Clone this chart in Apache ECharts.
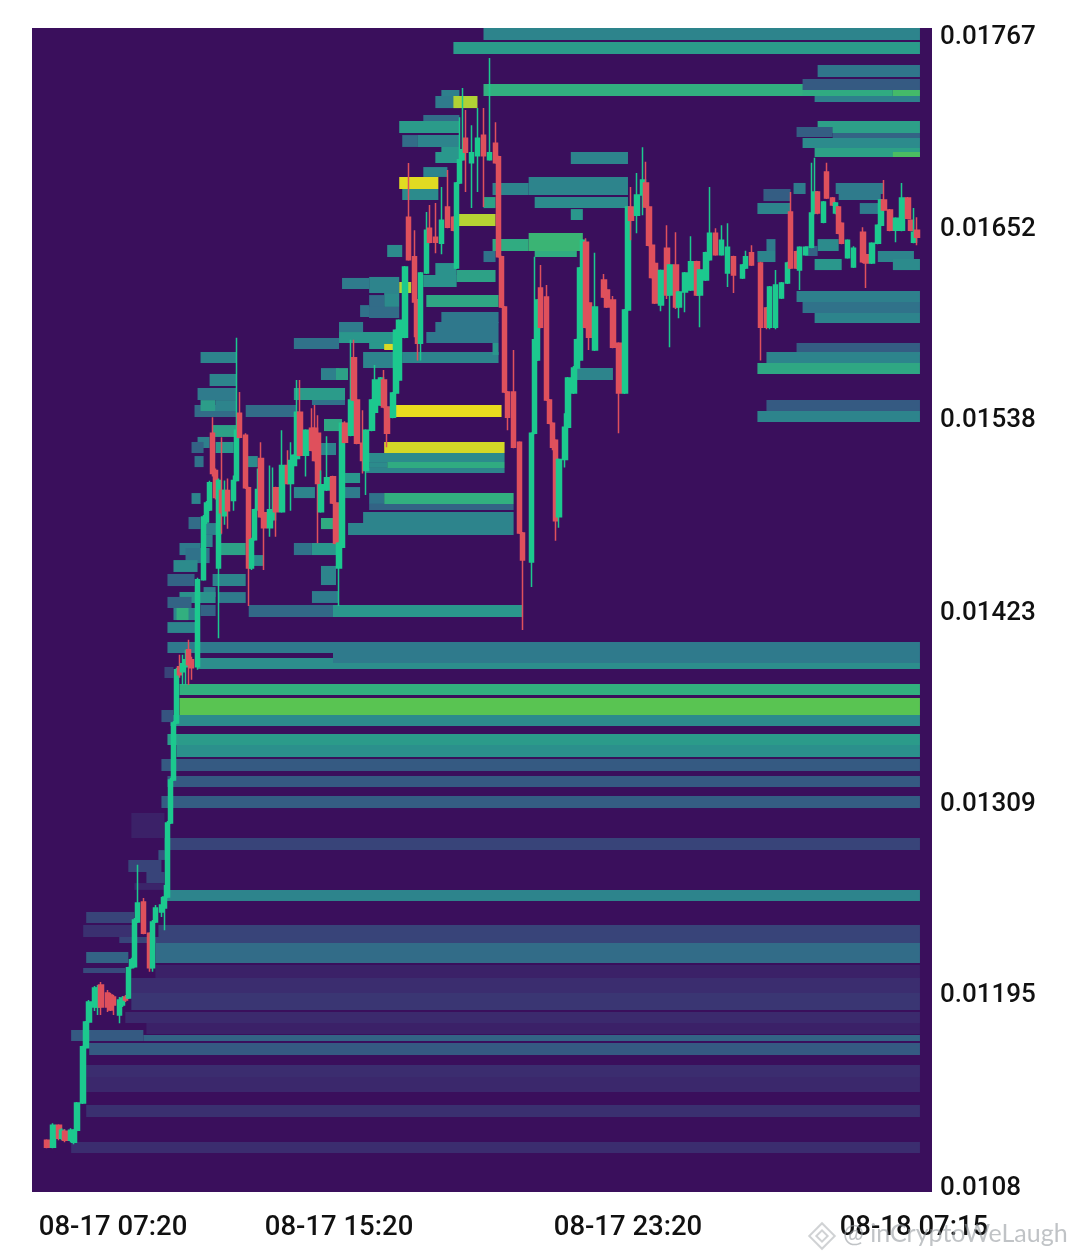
<!DOCTYPE html>
<html><head><meta charset="utf-8">
<script src="https://cdn.jsdelivr.net/npm/echarts@6/dist/echarts.min.js"></script>
<style>html,body{margin:0;padding:0;background:#fff}#c{width:1079px;height:1259px}</style>
</head><body><div id="c"></div>
<script>
// Prices are in millionths (14230 = 0.01423). x positions are 5-minute slots counted from 08-17 07:20.
const yTickLabels=['0.0108','0.01195','0.01309','0.01423','0.01538','0.01652','0.01767'];
const xTickSlots=[0,96,192,287];
const xTickLabels=['08-17 07:20','08-17 15:20','08-17 23:20','08-18 07:15'];

// candle rows: [slot, open, close, low, high]
const candlesRise=[[-1,11109,11067,11061,11115],[1,11067,11199,11061,11211],[3,11199,11121,11109,11205],[4,11121,11169,11109,11181],[5,11163,11109,11097,11175],[7,11109,11169,11097,11181],[8,11097,11169,11085,11175],[9,11169,11331,11163,11337],[11,11331,11667,11325,11673],[12,11661,11814,11655,11820],[13,11814,11934,11808,11946],[15,11904,12018,11880,12030],[16,11904,12018,11856,12036],[17,12036,11904,11856,12054],[19,11988,11904,11874,12006],[20,11976,11886,11880,11988],[21,11964,11916,11856,11976],[23,11856,11946,11808,11964],[24,11916,11958,11904,11970],[25,11964,11946,11934,11976],[26,11958,12138,11952,12144],[27,12138,12186,12132,12198],[28,12144,12423,12138,12435],[29,12411,12525,12405,12753],[31,12531,12345,12339,12555],[33,12345,12138,12114,12351],[34,12138,12411,12114,12423],[35,12411,12495,12405,12513],[37,12471,12513,12441,12561],[38,12495,12561,12363,12633],[39,12561,13002,12555,13014],[40,13002,13260,12996,13272],[41,13260,13599,13254,13611],[42,13599,13917,13593,13929],[43,13935,13887,13869,14007],[44,13905,13953,13827,14007],[45,13935,13977,13827,14037],[46,14037,13947,13827,14097],[47,13977,13929,13857,13995],[49,13935,14454,13917,14466],[51,14454,14829,14448,14841],[52,14799,14913,14787,14925],[53,14871,15033,14865,15045]];
const candlesFirstRange=[[54,15329,15089,15071,15425],[55,15107,14945,14933,15119],[56,14525,15047,14106,15059],[57,14987,14855,14729,15305],[58,14837,14987,14783,15047],[59,14987,14867,14759,15059],[61,14927,15047,14867,15077],[62,15047,15347,15041,15899],[63,15449,15305,15299,15575],[65,15317,15003,14997,15329],[66,15003,14525,14298,15009],[67,14525,14693,14513,14705],[68,14693,14873,14687,14879],[69,14873,14993,14867,15119],[70,15179,14831,14825,15275],[71,14855,14765,14513,14861],[73,14765,14873,14711,15137],[74,14813,14873,14807,15125],[75,15003,14861,14711,15009],[77,14861,15137,14855,15347],[79,15137,15029,15023,15227],[80,15029,15167,14867,15275],[81,15137,15197,15131,15203],[82,15179,15455,15173,15647],[83,15455,15197,15191,15647],[85,15197,15347,15071,15353],[87,15359,15227,15221,15479],[88,15359,15167,15161,15497],[89,15329,15029,14673,15437],[90,14861,15021,14855,15107],[92,14991,15063,14985,15311],[94,15069,14913,14907,15075],[95,14913,14673,14667,14919],[96,14525,14673,14298,14679],[97,14649,15389,14643,15395],[98,15389,15275,15269,15401],[100,15317,15527,15311,15887],[101,15779,15527,15521,15887],[102,15527,15269,15263,15533],[104,15269,15167,15089,15467],[105,15107,15347,14961,15353],[107,15347,15527,15341,15533],[108,15455,15647,15449,15737],[110,15497,15659,15491,15665],[111,15647,15485,15479,15707],[112,15485,15329,15245,15491]];
const candlesToPeak=[[114,15425,15569,15419,15575],[115,15569,15944,15563,15950],[116,15647,16004,15641,16010],[118,15902,16322,15896,16328],[119,16619,16364,16358,16942],[121,16382,16112,15902,16541],[122,16124,15866,15764,16130],[123,15866,16286,15764,16292],[125,16286,16541,16280,16649],[126,16553,16469,16463,16691],[128,16499,16469,16403,16703],[130,16463,16601,16397,16799],[132,16679,16559,16553,16901],[134,16619,16541,16535,16625],[135,16316,16823,16310,16829],[136,16823,16961,16817,17216],[137,16961,17021,16955,17390],[138,17090,17006,16769,17258],[140,16943,17003,16673,17168],[142,16985,17090,16769,17270],[144,17108,16985,16679,17270],[146,16961,17003,16955,17569],[148,17060,16943,16937,17186]];
const candlesDrop=[[149,16979,16382,16376,16985],[150,16382,16082,16076,16388],[151,16082,15575,15569,16088],[152,15575,15425,15347,15581],[154,15575,15245,15239,15826],[156,15275,14733,14727,15281],[157,14733,14573,14155,14739],[160,14561,15329,14411,15335],[161,15329,15887,15323,16382],[162,15767,16124,15761,16130],[163,16196,15962,15956,16334],[165,16142,15527,15521,16214],[166,15527,15389,15383,15533],[167,15389,15245,15227,15395],[168,15287,14807,14687,15293],[169,14831,15173,14765,15179],[171,15173,15365,15125,15449],[172,15365,15659,15359,15665],[174,15569,15719,15563,15731],[175,15719,15887,15713,15893],[176,15767,16316,15761,16322],[177,16304,16481,16298,16487],[178,16469,15962,15956,16493],[179,16106,15902,15826,16112],[181,15826,16082,15820,16406],[184,16244,16142,16136,16280],[185,16184,16082,16076,16190],[187,16124,15842,15836,16148],[189,15866,15569,15329,15872],[191,15569,16064,15563,16070],[192,16064,16679,16058,16685]];
const candlesRight=[[193,16679,16601,16481,16799],[195,16631,16751,16523,16883],[197,16751,16841,16631,17036],[198,16823,16679,16673,16949],[199,16679,16451,16445,16685],[200,16451,16259,16253,16457],[201,16343,16106,16100,16349],[203,16094,16301,16058,16307],[205,16433,16154,16130,16571],[206,16154,16334,15842,16340],[208,16334,16082,16070,16529],[209,16082,16172,16016,16178],[211,16172,16286,16052,16292],[213,16184,16352,16178,16505],[215,16352,16154,16148,16358],[216,16154,16304,15962,16310],[218,16244,16406,16238,16412],[219,16364,16523,16358,16799],[221,16523,16394,16388,16553],[223,16394,16481,16388,16571],[225,16286,16439,16202,16583],[227,16382,16274,16166,16388],[230,16256,16334,16250,16340],[231,16316,16382,16310,16418],[233,16406,16334,16328,16451],[236,16346,15962,15764,16352],[238,16076,15962,15950,16082],[239,15962,16202,15950,16208],[241,15962,16214,15950,16304],[243,16136,16226,16130,16232],[245,16226,16346,16220,16352],[246,16649,16316,16310,16769],[248,16412,16316,16310,16418],[249,16304,16439,16184,16445],[251,16394,16439,16388,16445],[253,16439,16643,16433,16943],[254,16643,16769,16637,16973],[255,16769,16643,16637,16775],[257,16589,16709,16583,16715],[258,16889,16733,16727,16943],[260,16733,16691,16685,16739],[261,16643,16703,16637,16709],[262,16679,16523,16517,16685],[263,16583,16463,16457,16589],[265,16376,16481,16370,16487],[267,16322,16433,16316,16445],[270,16529,16352,16346,16559],[271,16394,16346,16196,16400],[273,16346,16463,16340,16469],[275,16463,16571,16457,16577],[276,16571,16721,16565,16727],[277,16721,16661,16655,16841],[279,16661,16541,16535,16667],[281,16541,16613,16469,16619],[283,16541,16733,16535,16823],[285,16733,16613,16607,16739],[286,16601,16541,16535,16607],[287,16469,16529,16463,16673],[288,16541,16499,16451,16619]];

// liquidity band rows: [startSlot, endSlot, lowPrice, highPrice, intensity]
const bandsLower=[[39,289,14018,14083,.375],[94,289,13958,14018,.375],[49,94,13922,13987,.46],[94,289,13922,13958,.46],[43,289,13767,13832,.625],[43,289,13647,13749,.74],[40,289,13581,13647,.45],[37,41,13605,13677,.25],[39,289,13468,13534,.52],[42,289,13396,13468,.47],[37,289,13313,13384,.27],[39,289,13217,13283,.27],[37,289,13092,13164,.28],[27,38,12913,13062,.08],[38,289,12841,12913,.2],[36,39,12782,12841,.25],[26,37,12710,12782,.2],[32,38,12644,12710,.2],[28,38,12603,12644,.1],[38,289,12537,12603,.42],[12,28,12405,12471,.2],[11,28,12322,12394,.14],[36,289,12322,12394,.2],[23,289,12286,12322,.2],[35,289,12227,12286,.33],[12,26,12167,12233,.3],[35,289,12167,12227,.33],[11,25,12107,12137,.22],[35,289,12077,12155,.08],[27,289,11988,12077,.13],[27,289,11886,11988,.16],[25,289,11809,11874,.12],[32,289,11743,11809,.08],[7,31,11701,11767,.27],[31,289,11701,11737,.3],[13,289,11618,11689,.27],[12,289,11486,11558,.13],[12,289,11397,11486,.11],[12,289,11247,11319,.14],[7,289,11033,11099,.13]];
const bandsMiddle=[[81,96,15832,15897,.35],[96,115,15868,15933,.5],[106,116,15832,15868,.5],[111,115,15826,15862,.96],[104,115,15718,15814,.42],[50,62,15748,15814,.42],[90,96,15647,15718,.4],[95,99,15647,15718,.55],[53,62,15611,15683,.42],[49,62,15527,15599,.38],[48,62,15426,15498,.33],[50,55,15462,15527,.53],[55,62,15462,15527,.42],[65,82,15426,15498,.33],[81,98,15527,15599,.52],[87,98,15498,15527,.35],[113,150,15426,15498,1],[111,151,15211,15277,.95],[105,151,15157,15211,.45],[106,112,15122,15157,.45],[112,151,15122,15157,.6],[105,151,15092,15122,.42],[106,111,14907,14972,.35],[111,154,14907,14972,.62],[106,154,14871,14907,.3],[104,154,14793,14859,.42],[99,154,14722,14793,.42],[66,94,14232,14304,.32],[94,157,14232,14304,.5],[117,149,15748,15814,.42],[55,61,15211,15277,.5],[54,62,15307,15378,.55],[49,53,15241,15307,.4],[47,51,15211,15277,.3],[48,51,15127,15193,.35],[65,69,15127,15193,.45],[47,50,14907,14972,.42],[81,88,14942,15008,.42],[98,103,15032,15092,.5],[98,103,14942,15008,.38],[91,97,15342,15414,.58],[90,95,15199,15271,.4],[90,94,14757,14823,.6],[46,50,14757,14829,.33],[51,57,14722,14793,.4],[51,54,14650,14722,.42],[43,50,14602,14674,.38],[56,65,14602,14674,.55],[81,87,14602,14674,.35],[87,95,14602,14674,.5],[67,71,14537,14602,.45],[45,53,14554,14644,.35],[41,49,14501,14572,.45],[39,48,14417,14489,.3],[54,65,14417,14489,.42],[90,95,14423,14537,.42],[51,55,14352,14411,.38],[43,55,14316,14381,.48],[56,65,14316,14381,.38],[87,96,14316,14387,.38],[39,47,14286,14352,.3],[41,49,14214,14286,.42],[42,46,14214,14286,.62],[50,55,14238,14304,.3],[39,49,14137,14202,.42],[38,41,13868,13934,.2]];
const bandsUpper=[[144,251,17342,17414,.62],[130,136,17336,17378,.4],[128,136,17270,17342,.38],[134,142,17270,17342,.87],[124,136,17157,17229,.33],[116,136,17121,17193,.52],[117,122,17038,17109,.33],[122,136,17038,17109,.42],[130,136,17002,17038,.5],[128,136,16942,17008,.5],[124,132,16859,16918,.42],[116,129,16787,16859,.98],[117,129,16721,16787,.45],[144,148,16673,16739,.55],[135,148,16566,16638,.88],[147,159,16751,16823,.42],[159,192,16751,16859,.42],[161,192,16673,16739,.45],[173,192,16936,17008,.42],[173,177,16602,16667,.5],[147,159,16417,16488,.6],[159,177,16417,16524,.65],[161,175,16381,16417,.6],[144,148,16351,16417,.35],[112,117,16381,16453,.45],[135,148,16232,16303,.55],[128,135,16202,16345,.48],[124,135,16202,16274,.48],[106,116,16166,16262,.42],[97,106,16190,16256,.38],[116,120,16166,16232,.88],[106,111,16017,16154,.33],[111,116,16083,16166,.45],[106,116,16017,16083,.33],[103,106,16023,16094,.35],[96,104,15933,15993,.38],[125,149,16083,16154,.58],[130,149,15987,16053,.37],[128,149,15933,15993,.37],[125,149,15868,15933,.37],[147,149,15796,15868,.5],[175,187,15647,15718,.42]];
const bandsRight=[[144,289,17676,17748,.42],[134,289,17593,17664,.52],[255,289,17455,17527,.36],[250,289,17378,17443,.27],[250,280,17342,17378,.6],[280,289,17342,17378,.68],[254,289,17306,17342,.4],[255,289,17121,17193,.54],[248,260,17097,17157,.28],[260,289,17091,17121,.3],[250,289,17032,17091,.45],[254,289,16978,17032,.55],[280,289,16978,17008,.7],[247,251,16757,16823,.38],[261,277,16757,16823,.38],[262,276,16721,16757,.38],[237,246,16715,16787,.28],[235,246,16638,16703,.42],[269,276,16638,16703,.38],[238,241,16417,16488,.38],[235,241,16351,16417,.42],[255,262,16417,16488,.45],[251,255,16387,16447,.3],[275,287,16351,16417,.42],[254,263,16303,16369,.5],[280,289,16303,16369,.45],[248,289,16112,16178,.4],[250,289,16047,16112,.35],[254,289,15987,16047,.42],[248,289,15796,15868,.28],[238,289,15748,15814,.42],[235,289,15683,15748,.58],[238,289,15462,15527,.27],[235,289,15396,15462,.42]];

const viridisStops=['#3a0f5c','#3b2b6e','#365480','#2f7a8c','#2a978c','#32b07e','#5cc64e','#b4d334','#eadc1e'];
const toPrice=v=>v/1e6;
const candleRows=[...candlesRise,...candlesFirstRange,...candlesToPeak,...candlesDrop,...candlesRight]
  .map(r=>[r[0],toPrice(r[1]),toPrice(r[2]),toPrice(r[3]),toPrice(r[4])]);
const bandRows=[...bandsLower,...bandsMiddle,...bandsUpper,...bandsRight]
  .map(r=>[r[0],r[1],toPrice(r[2]),toPrice(r[3]),r[4]]);
const yTickValues=yTickLabels.map(Number);

const chart=echarts.init(document.getElementById('c'),null,{renderer:'canvas'});
chart.setOption({
  animation:false,
  backgroundColor:'#ffffff',
  grid:{left:32,right:147,top:28,bottom:67,show:true,backgroundColor:'#3a0f5c',borderWidth:0},
  tooltip:{show:false},
  visualMap:{show:false,type:'continuous',dimension:4,seriesIndex:0,min:0,max:1,inRange:{color:viridisStops}},
  xAxis:{type:'value',min:-6,max:293,splitLine:{show:false},axisLine:{show:false},axisTick:{show:false},
    axisLabel:{customValues:xTickSlots,margin:22,color:'#111',fontFamily:'Roboto',fontWeight:500,fontSize:27.5,
      formatter:(v)=>{const t=xTickLabels[xTickSlots.indexOf(v)];return v===xTickSlots[0]?'{first|'+t+'}':t;},
      rich:{first:{fontFamily:'Roboto',fontWeight:500,fontSize:27.5,color:'#111',padding:[0,0,0,126]}}}},
  yAxis:{type:'value',position:'right',min:0.0108,max:0.017748,splitLine:{show:false},axisLine:{show:false},axisTick:{show:false},
    axisLabel:{customValues:yTickValues,margin:8,color:'#111',fontFamily:'Roboto',fontWeight:500,fontSize:26,align:'left',verticalAlign:'bottom',lineHeight:8,
      formatter:(v)=>yTickLabels[yTickValues.indexOf(v)]}},
  series:[
    {type:'custom',data:bandRows,silent:true,clip:true,encode:{x:[0,1],y:[2,3]},
      renderItem:(params,api)=>{
        const a=api.coord([api.value(0),api.value(3)]);
        const b=api.coord([api.value(1),api.value(2)]);
        return {type:'rect',shape:{x:a[0],y:a[1],width:b[0]-a[0],height:b[1]-a[1]},style:{fill:api.visual('color')}};
      }},
    {type:'candlestick',data:candleRows,barWidth:5,silent:true,z:5,
      itemStyle:{color:'#1cc98e',color0:'#df505c',borderColor:'#1cc98e',borderColor0:'#df505c',borderWidth:1.5}}
  ],
  graphic:[
    {type:'text',z:100,left:843,top:1221,style:{text:'@ inCryptoWeLaugh',fontFamily:'Lato',fontSize:25,fill:'rgba(150,155,160,0.6)'}},
    {type:'rect',z:100,shape:{x:-9,y:-9,width:18,height:18},x:822,y:1236,rotation:Math.PI/4,style:{fill:'none',stroke:'rgba(150,155,160,0.45)',lineWidth:2}},
    {type:'rect',z:100,shape:{x:-4,y:-4,width:8,height:8},x:822,y:1236,rotation:Math.PI/4,style:{fill:'none',stroke:'rgba(150,155,160,0.45)',lineWidth:2}}
  ]
});
</script></body></html>
